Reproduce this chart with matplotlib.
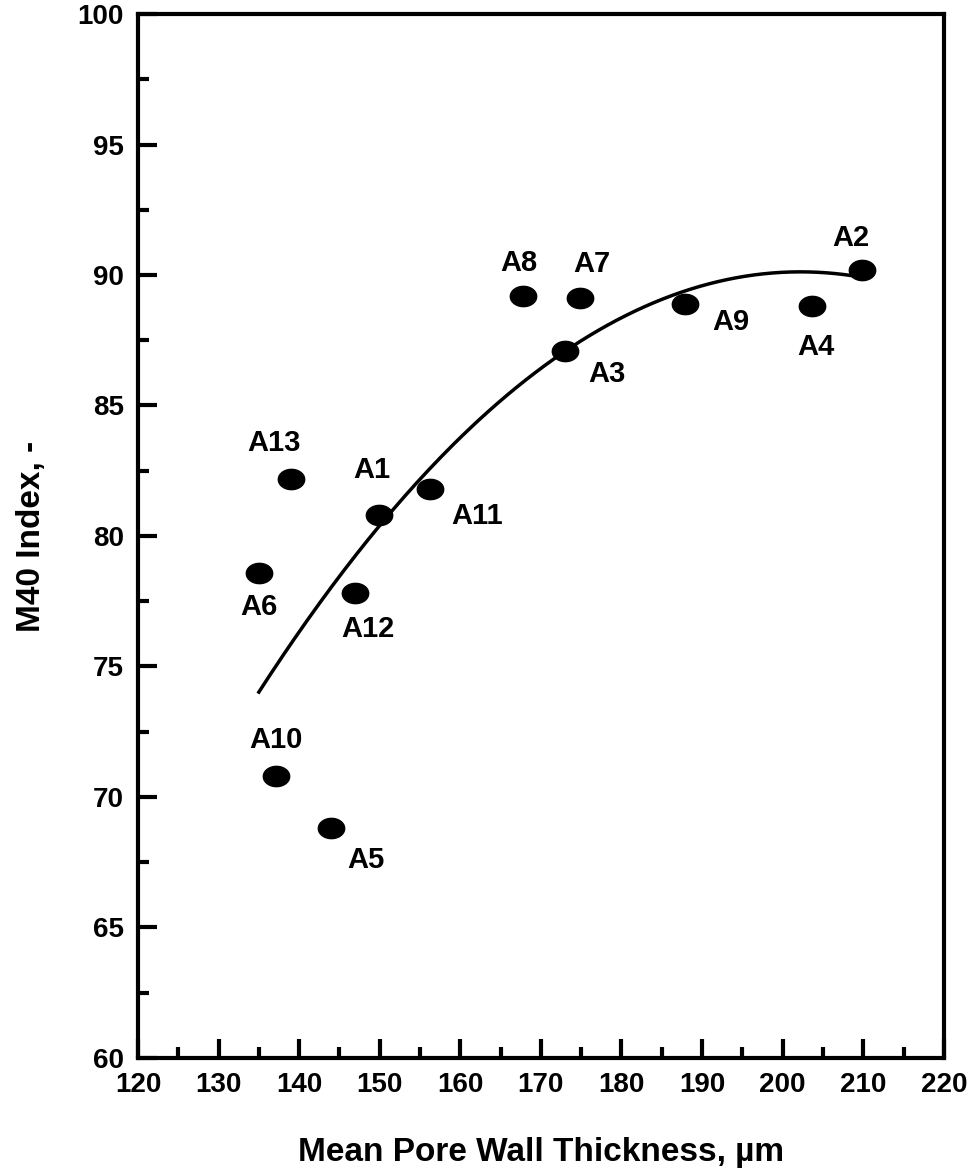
import numpy as np
import matplotlib.pyplot as plt
from matplotlib.ticker import MultipleLocator

plt.rcParams['font.family'] = ['Liberation Sans', 'DejaVu Sans']
plt.rcParams['font.weight'] = 'bold'

names = ['A1', 'A2', 'A3', 'A4', 'A5', 'A6', 'A7', 'A8', 'A9', 'A10', 'A11', 'A12', 'A13']
thickness = [149.9, 209.8, 173.0, 203.7, 143.9, 135.0, 174.8, 167.8, 187.9, 137.1, 156.2, 146.9, 139.0]
m40 = [80.8, 90.2, 87.1, 88.8, 68.8, 78.6, 89.1, 89.2, 88.9, 70.8, 81.8, 77.8, 82.2]
# label offsets in pixels (dx, dy up)
offsets = [(-7, 45), (-11, 32), (42, -23), (3, -41), (35, -32), (0, -34), (12, 34),
           (-4, 33), (46, -18), (0, 36), (47, -27), (13, -36), (-17, 36)]

# trend line
curve_x = [135, 140, 150, 160, 170, 180, 190, 200, 210]
curve_y = [73.9, 76.5, 80.4, 83.7, 86.4, 88.4, 89.6, 90.1, 89.9]

fig = plt.figure(figsize=(9.69, 11.69), dpi=100)
ax = fig.add_axes([0.1424, 0.095, 0.8316, 0.893])

coef = np.polyfit(curve_x, curve_y, 2)
xs = np.linspace(135, 210, 200)
ax.plot(xs, np.polyval(coef, xs), color='black', lw=2.5)

# slightly wide ellipse markers
t = np.linspace(0, 2 * np.pi, 60)
ellipse = np.column_stack([1.3 * np.cos(t), np.sin(t)])
ax.plot(thickness, m40, linestyle='none', marker=ellipse, color='black', markersize=19)

for n, x, y, (dx, dy) in zip(names, thickness, m40, offsets):
    ax.annotate(n, (x, y), xytext=(dx, dy), textcoords='offset pixels',
                ha='center', va='center', fontsize=21, fontweight='bold')

ax.set_xlim(120, 220)
ax.set_ylim(60, 100)
ax.xaxis.set_major_locator(MultipleLocator(10))
ax.xaxis.set_minor_locator(MultipleLocator(5))
ax.yaxis.set_major_locator(MultipleLocator(5))
ax.yaxis.set_minor_locator(MultipleLocator(2.5))
ax.tick_params(which='both', direction='in', width=3, labelsize=20, pad=10)
ax.tick_params(which='major', length=14)
ax.tick_params(which='minor', length=8)
for s in ax.spines.values():
    s.set_linewidth(3)

ax.set_xlabel('Mean Pore Wall Thickness, µm', fontsize=24, fontweight='bold', labelpad=28)
ax.set_ylabel('M40 Index, -', fontsize=24, fontweight='bold', labelpad=22)

fig.savefig('out.png', dpi=100)
